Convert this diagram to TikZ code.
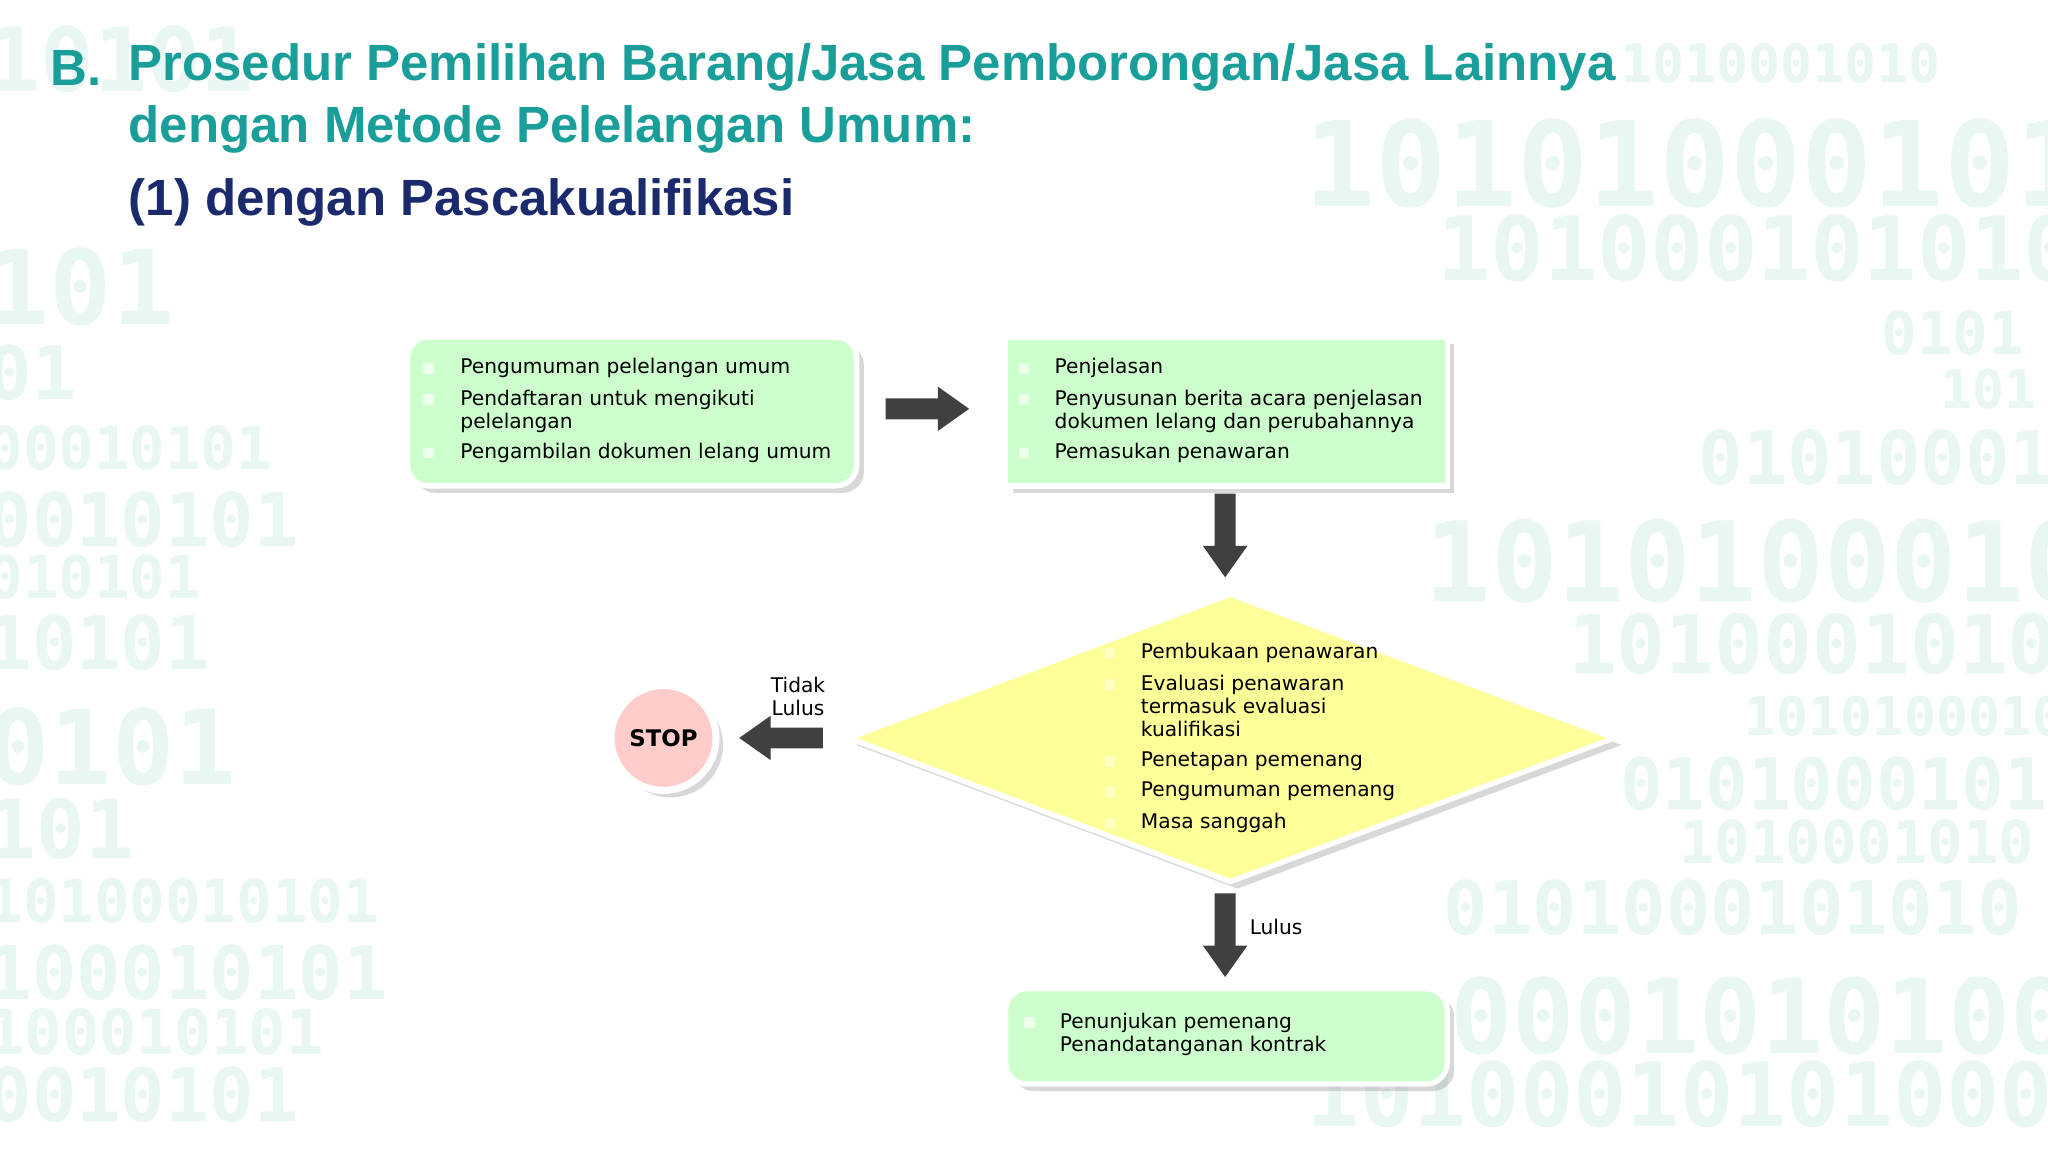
\documentclass[tikz,border=0pt]{standalone}
\usepackage{fontspec}
\setmainfont{DejaVu Sans}
\newfontfamily\titlefont{Liberation Sans}
\newfontfamily\digfont{DejaVu Sans Mono}
\usetikzlibrary{shapes.geometric,shadows}
\definecolor{teal1}{HTML}{1A9E9A}
\definecolor{navy1}{HTML}{1A2A6C}
\definecolor{boxg}{HTML}{CCFFCC}
\definecolor{dia}{HTML}{FFFF99}
\definecolor{arr}{HTML}{404040}
\definecolor{dig}{HTML}{E8F6F4}
\tikzset{
 gbox/.style={draw=white,line width=1.5pt,fill=boxg,drop shadow={opacity=0.3,shadow xshift=2pt,shadow yshift=-2pt}},
 txt/.style={font=\fontsize{5.75}{6.6}\selectfont,align=left,anchor=north west,inner sep=0pt},
 bl/.style={fill=white!60!boxg,minimum size=3pt,inner sep=0pt},
 bg/.style={text=dig,font=\digfont\bfseries\fontsize{\the\dimexpr#1pt*42/100\relax}{\the\dimexpr#1pt*42/100\relax}\selectfont,anchor=west,inner sep=0pt},
 fatarrow/.pic={\fill[arr] (0,-8) -- (40,-8) -- (40,-17) -- (64,0) -- (40,17) -- (40,8) -- (0,8) -- cycle;}
}
\begin{document}
\begin{tikzpicture}[x=0.013061cm,y=-0.013061cm]
\useasboundingbox[fill=white] (0,0) rectangle (1568,882);
% background digits
\node[bg=36] (d11) at (1240,48) {1010001010};
\node[bg=80] (d1) at (998,125) {10101000101};
\node[bg=60] (d2) at (1100,190) {101000101010};
\node[bg=40] (d9) at (1440,255) {0101};
\node[bg=36] (d12) at (1485,298) {101};
\node[bg=50] (d8) at (1300,350) {0101000101};
\node[bg=75] (d3) at (1090,430) {1010100010101};
\node[bg=55] (d4) at (1200,493) {1010001010};
\node[bg=36] (d10) at (1335,548) {1010100010};
\node[bg=48] (d5) at (1240,600) {01010001010};
\node[bg=40] (d13) at (1285,645) {1010001010};
\node[bg=50] (d7) at (1105,695) {0101000101010};
\node[bg=70] (d6) at (1110,778) {0001010100};
\node[bg=60] (d14) at (1000,838) {10100010101000};
\node[bg=60] (e0) at (-10,45) {10101};
\node[bg=70] (e1) at (-10,220) {101};
\node[bg=50] (e9) at (-10,285) {01};
\node[bg=40] (e7) at (-10,343) {00010101};
\node[bg=50] (e2) at (-10,398) {0010101};
\node[bg=40] (e10) at (-10,442) {010101};
\node[bg=50] (e3) at (-10,492) {10101};
\node[bg=70] (e4) at (-10,572) {0101};
\node[bg=55] (e11) at (-10,635) {101};
\node[bg=40] (e8) at (-10,690) {10100010101};
\node[bg=50] (e5) at (-10,745) {100010101};
\node[bg=42] (e12) at (-10,790) {100010101};
\node[bg=50] (e6) at (-10,838) {0010101};
% title
\node[anchor=west,inner sep=0pt,text=teal1,font=\titlefont\bfseries\fontsize{14.5}{16}\selectfont] (t1) at (38,52) {B.};
\node[anchor=west,inner sep=0pt,text=teal1,font=\titlefont\bfseries\fontsize{14.5}{16}\selectfont] (t2) at (98,52) {Prosedur Pemilihan Barang/Jasa Pemborongan/Jasa Lainnya};
\node[anchor=west,inner sep=0pt,text=teal1,font=\titlefont\bfseries\fontsize{14.5}{16}\selectfont] (t3) at (98,99) {dengan Metode Pelelangan Umum:};
\node[anchor=west,inner sep=0pt,text=navy1,font=\titlefont\bfseries\fontsize{14.5}{16}\selectfont] (t4) at (98,155) {(1) dengan Pascakualifikasi};
% box 1
\draw[gbox,rounded corners=6pt] (312,258) rectangle (656,372);
\node[bl] (b11) at (328,282) {}; \node[txt] (x11) at (352,274) {Pengumuman pelelangan umum};
\node[bl] (b12) at (328,306) {}; \node[txt] (x12) at (352,298) {Pendaftaran untuk mengikuti\\pelelangan};
\node[bl] (b13) at (328,347) {}; \node[txt] (x13) at (352,339) {Pengambilan dokumen lelang umum};
% box 2
\draw[gbox] (770,258) rectangle (1108,372);
\node[bl] (b21) at (784,282) {}; \node[txt] (x21) at (807,274) {Penjelasan};
\node[bl] (b22) at (784,306) {}; \node[txt] (x22) at (807,298) {Penyusunan berita acara penjelasan\\dokumen lelang dan perubahannya};
\node[bl] (b23) at (784,347) {}; \node[txt] (x23) at (807,339) {Pemasukan penawaran};
% diamond
\draw[draw=white,line width=1.5pt,fill=dia,drop shadow={opacity=0.3,shadow xshift=2pt,shadow yshift=-2pt}] (650,565) -- (942,455) -- (1236,565) -- (942,675) -- cycle;
\node[bl,fill=white!40!dia] (b31) at (850,500) {}; \node[txt] (x31) at (873,492) {Pembukaan penawaran};
\node[bl,fill=white!40!dia] (b32) at (850,524) {}; \node[txt] (x32) at (873,516) {Evaluasi penawaran\\termasuk evaluasi\\kualifikasi};
\node[bl,fill=white!40!dia] (b33) at (850,583) {}; \node[txt] (x33) at (873,575) {Penetapan pemenang};
\node[bl,fill=white!40!dia] (b34) at (850,606) {}; \node[txt] (x34) at (873,598) {Pengumuman pemenang};
\node[bl,fill=white!40!dia] (b35) at (850,630) {}; \node[txt] (x35) at (873,622) {Masa sanggah};
% box 3
\draw[gbox,rounded corners=6pt] (770,757) rectangle (1108,830);
\node[bl] (b41) at (788,783) {}; \node[txt] (x41) at (811,775) {Penunjukan pemenang\\Penandatanganan kontrak};
% stop
\node[circle,draw=white,line width=2pt,fill=red!20,minimum size=1.05cm,drop shadow={opacity=0.3,shadow xshift=2pt,shadow yshift=-2pt},font=\fontsize{6.5}{8}\selectfont\bfseries] (stop) at (508,565) {STOP};
% block arrows
\pic at (678,313) {fatarrow};
\pic[rotate=-90] at (938,378) {fatarrow};
\pic[rotate=180] at (630,565) {fatarrow};
\pic[rotate=-90] at (938,684) {fatarrow};
\node[txt,align=center,anchor=center] (l1) at (611,533) {Tidak\\Lulus};
\node[txt,anchor=center] (l2) at (977,710) {Lulus};
\end{tikzpicture}
\end{document}
